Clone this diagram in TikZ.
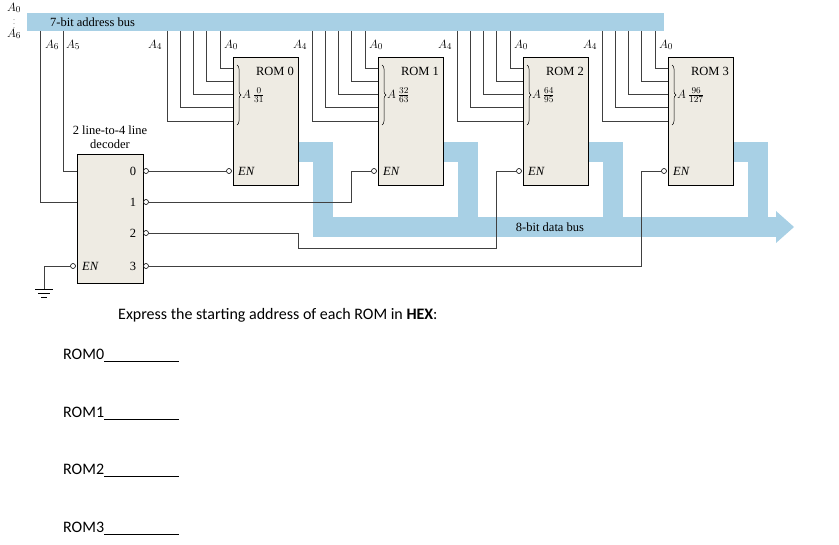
\documentclass[tikz,border=0pt]{standalone}
\usepackage{fontspec}
\setmainfont{Liberation Serif}
\newfontfamily\carlitofont{Carlito}
\usetikzlibrary{decorations.pathreplacing}
\definecolor{busblue}{RGB}{168,208,229}
\definecolor{chipfill}{RGB}{238,235,227}
\tikzset{
 chip/.style={draw,line width=1.2pt,fill=chipfill},
 wire/.style={draw,line width=0.6pt,black!75},
 bub/.style={circle,draw,fill=white,inner sep=0pt,minimum size=5pt,line width=0.6pt},
 lab/.style={font=\fontsize{12.5}{14}\selectfont,inner sep=0pt},
 busline/.style={line width=20pt,busblue},
 txt/.style={font=\carlitofont\fontsize{16}{18}\selectfont,anchor=west,inner sep=0pt}
}
\begin{document}
\begin{tikzpicture}[x=1pt,y=-1pt]
\useasboundingbox (0,0) rectangle (839,545);
% address bus
\fill[busblue] (27,13) rectangle (664,31);
\node[lab,anchor=west] (abus) at (50,22) {7-bit address bus};
\node[lab] (a0) at (14,8) {$A_0$};
\node[lab] (a6) at (14,34) {$A_6$};
\node[inner sep=0pt,font=\fontsize{6}{6}\selectfont] (dots) at (14,21) {$\vdots$};
% data bus
\draw[busline] (313,227) -- (776,227);
\fill[busblue] (776,211) -- (794,227) -- (776,243) -- cycle;
\node[lab] (dbus) at (550,227) {8-bit data bus};
% ROMs
\foreach \k/\lo/\hi in {0/0/31,1/32/63,2/64/95,3/96/127}{
 \pgfmathsetmacro{\o}{145*\k}
 \begin{scope}[xshift=\o]
 \draw[busline] (290,152) -- (323,152) -- (323,227);
 \foreach \j in {0,...,4}{
  \draw[wire] (220-13.25*\j,31) |- (233,68+13.25*\j);
 }
 \node[chip,minimum width=65pt,minimum height=128pt,anchor=north west,inner sep=0pt] (rom\k) at (233,57) {};
 \node[lab] (rl\k) at (275,71) {ROM \k};
 \draw[decorate,decoration={brace,amplitude=4pt},line width=0.5pt] (237,65) -- (237,125);
 \node[lab,anchor=west] (ra\k) at (242,95) {$A\,\frac{\lo}{\hi}$};
 \node[bub] (en\k) at (229,171) {};
 \node[lab,anchor=west] (ent\k) at (238,171) {\textit{EN}};
 \node[lab] (la0\k) at (231,45) {$A_0$};
 \node[lab] (la4\k) at (155,45) {$A_4$};
 \end{scope}
}
% decoder
\node[chip,minimum width=66pt,minimum height=129pt,anchor=north west,inner sep=0pt] (dec) at (77,154) {};
\node[lab,align=center] (dect) at (110,137) {2 line-to-4 line\\decoder};
\foreach \i/\y in {0/171,1/202,2/233,3/266}{
 \node[lab] (o\i) at (133,\y) {\i};
 \node[bub] (ob\i) at (146,\y) {};
}
\node[bub] (deb) at (73,266) {};
\node[lab,anchor=west] (den) at (82,266) {\textit{EN}};
\node[lab] (la6) at (52,45) {$A_6$};
\node[lab] (la5) at (73,45) {$A_5$};
\draw[wire] (40,31) |- (77,202);
\draw[wire] (63,31) |- (77,171);
\coordinate (gnd) at (44,289);
\draw[wire] (deb) -- (44,266) -- (gnd);
\draw[line width=0.8pt] (35,289) -- (53,289) (38,293) -- (50,293) (41,297) -- (47,297);
% enables
\draw[wire] (ob0) -- (en0);
\draw[wire] (ob1) -- (351,202) |- (en1);
\draw[wire] (ob2) -- (298,233) -- (298,248) -- (496,248) |- (en2);
\draw[wire] (ob3) -- (641,266) |- (en3);
% text
\node[txt] (q) at (118,315) {Express the starting address of each ROM in \textbf{HEX}:};
\foreach \i/\y in {0/355,1/413,2/470,3/528}{
 \node[txt] (r\i) at (63,\y) {ROM\i\rule[-2pt]{75pt}{0.6pt}};
}
\end{tikzpicture}
\end{document}
